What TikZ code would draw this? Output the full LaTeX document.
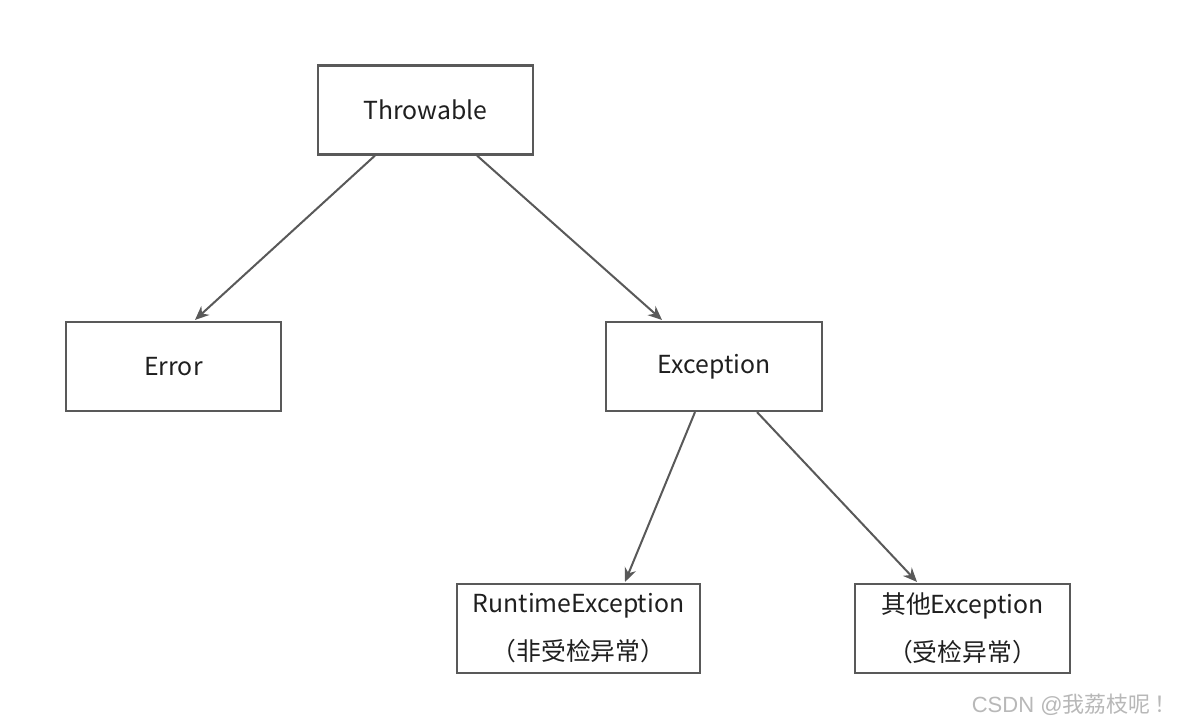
\documentclass[tikz,border=0pt]{standalone}
\usepackage{fontspec}
\setmainfont{Noto Sans CJK SC}
\newfontfamily\markfont{Liberation Sans}
\usetikzlibrary{calc,arrows.meta}
\tikzset{
	klass/.style={draw=black!65, line width=1.6pt, rectangle, minimum height=66.75pt, inner sep=0pt, align=center, font=\fontsize{18.6}{36}\selectfont, text=black!88},
	inherit/.style={draw=black!65, line width=1.5pt, -{Stealth[length=10.5pt, width=9pt]}}
}
\begin{document}
\begin{tikzpicture}[x=0.75pt, y=-0.75pt]
			%%%%% START %%%%%
			
			\useasboundingbox[fill=white] (0, 0) rectangle (1189, 724);
			
			\node[klass, minimum width=161.25pt] (thr) at (425.5, 110) {Throwable};
			\node[klass, minimum width=161.25pt] (err) at (173.5, 366.5) {Error};
			\node[klass, minimum width=162pt] (exc) at (714, 366.5) {Exception};
			\node[klass, minimum width=182.25pt] (rte) at (578.5, 628.5) {RuntimeException\\（非受检异常）};
			\node[klass, minimum width=161.25pt] (oth) at (962.5, 628.5) {其他Exception\\（受检异常）};
			
			\draw[inherit] ($(thr.south)+(-50.5, 0)$) -- ($(err.north)+(21.5, -1)$);
			\draw[inherit] ($(thr.south)+(51.5, 0)$) -- ($(exc.north)+(-52, -1)$);
			\draw[inherit] ($(exc.south)+(-19, 0)$) -- ($(rte.north)+(46.5, -1)$);
			\draw[inherit] ($(exc.south)+(43, 0)$) -- ($(oth.north)+(-45.5, -1)$);
			
			\node[text=black!28, font=\fontsize{16.5}{20}\selectfont, anchor=east] (mark) at (1181, 705) {{\markfont CSDN @}我荔枝呢\,！};
			
			%%%%% END %%%%%
		\end{tikzpicture}
\end{document}
